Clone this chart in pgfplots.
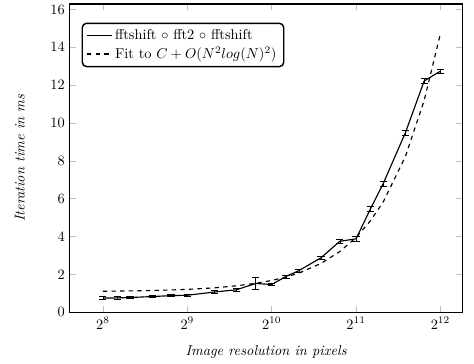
\documentclass[border=0pt]{standalone}
\usepackage{pgfplots}
\pgfplotsset{compat=1.18}
\begin{document}
\begin{tikzpicture}
\begin{axis}[
  scale only axis,
  width=274pt, height=215pt,
  xmode=log, log basis x=2,
  xmin=195, xmax=4911,
  ymin=0, ymax=16.28,
  xtick={256,512,1024,2048,4096},
  ytick={0,2,4,6,8,10,12,14,16},
  minor xtick={},
  axis line style={line width=1pt},
  tick style={gray!50, thin},
  xlabel={\textit{Image resolution in pixels}},
  ylabel={\textit{Iteration time in ms}},
  ylabel shift=11pt,
  xlabel shift=5pt,
  legend style={rounded corners=3pt, line width=1pt, at={(0.03,0.94)}, anchor=north west, font=\normalsize},
  legend cell align=left,
]
\addplot[black, thick, mark=none, error bars/.cd, y dir=both, y explicit, error mark options={black, thin, rotate=90, mark size=2.5pt}, error bar style={thin}]
coordinates {
(256,0.75) +- (0,0.07)
(288,0.76) +- (0,0.06)
(320,0.78) +- (0,0.05)
(384,0.83) +- (0,0.05)
(448,0.88) +- (0,0.05)
(512,0.90) +- (0,0.05)
(640,1.07) +- (0,0.08)
(768,1.19) +- (0,0.06)
(896,1.52) +- (0,0.33)
(1024,1.47) +- (0,0.07)
(1152,1.89) +- (0,0.08)
(1280,2.20) +- (0,0.08)
(1536,2.88) +- (0,0.07)
(1792,3.75) +- (0,0.12)
(2048,3.88) +- (0,0.12)
(2304,5.46) +- (0,0.13)
(2560,6.80) +- (0,0.12)
(3072,9.49) +- (0,0.12)
(3584,12.22) +- (0,0.13)
(4096,12.74) +- (0,0.12)
};
\addlegendentry{fftshift $\circ$ fft2 $\circ$ fftshift}
\addplot[black, thick, dashed, mark=none]
coordinates {
(256,1.11) (288,1.12) (320,1.13) (384,1.15) (448,1.18) (512,1.21)
(640,1.29) (768,1.40) (896,1.53) (1024,1.68) (1152,1.86) (1280,2.07)
(1536,2.58) (1792,3.21) (2048,3.95) (2304,4.83) (2560,5.83)
(3072,8.23) (3584,11.19) (4096,14.72)
};
\addlegendentry{Fit to $C+O(N^2log(N)^2)$}
\end{axis}
\path (current axis.east) ++(8pt,0);
\path (current bounding box.west) ++(-7pt,0);
\end{tikzpicture}
\end{document}
